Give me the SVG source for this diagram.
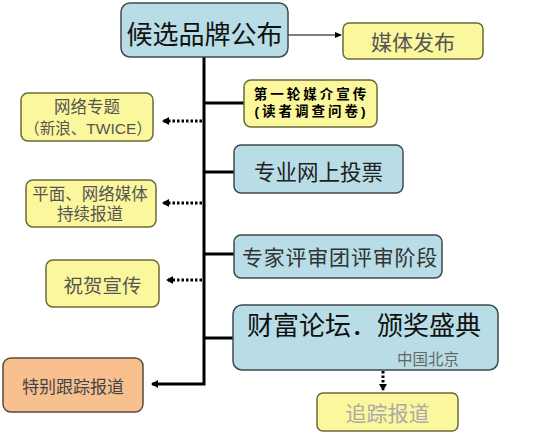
<svg xmlns="http://www.w3.org/2000/svg" width="550" height="438" viewBox="0 0 550 438">
<style>
.b{fill:#B8DDE6;stroke:#3f4a4c;stroke-width:1.5}
.y{fill:#FAF79C;stroke:#6b6a3a;stroke-width:1.5}
.o{fill:#F8C08E;stroke:#5a4a3a;stroke-width:1.5}
text{font-family:"Noto Sans CJK SC","Noto Sans",sans-serif;text-anchor:middle;dominant-baseline:central}
text.t{font-family:"Liberation Sans","Noto Sans CJK SC",sans-serif}
.solid{stroke:#000;stroke-width:3;fill:none}
.dot{stroke:#000;stroke-width:3;stroke-dasharray:2.5 2;fill:none}
</style>
<defs>
<marker id="ah" markerWidth="8" markerHeight="8" refX="6" refY="4" orient="auto" markerUnits="userSpaceOnUse"><path d="M0,0 L7,4 L0,8 z" fill="#000"/></marker>
<marker id="ahs" markerWidth="8" markerHeight="8" refX="6" refY="4" orient="auto" markerUnits="userSpaceOnUse"><path d="M0,1 L7,4 L0,7 z" fill="#000"/></marker>
</defs>
<rect width="550" height="438" fill="#fff"/>
<g id="connectors">
<path class="solid" d="M204,57 V384 H152" marker-end="url(#ah)"/>
<path d="M288,35 H341" stroke="#000" stroke-width="1.2" fill="none" marker-end="url(#ahs)"/>
<path class="solid" d="M204,103 H244"/>
<path class="solid" d="M204,172 H234"/>
<path class="solid" d="M204,254 H234"/>
<path class="solid" d="M204,338 H233"/>
<path class="dot" d="M202,121 H163" marker-end="url(#ah)"/>
<path class="dot" d="M202,203 H163" marker-end="url(#ah)"/>
<path class="dot" d="M202,280 H167" marker-end="url(#ah)"/>
<path class="dot" d="M383,371 V390" stroke-width="2.5" marker-end="url(#ah)"/>
</g>
<g id="n_top"><rect class="b" x="121" y="3" width="167" height="54" rx="9"/><text x="204.5" y="32" font-size="26" fill="#111">候选品牌公布</text></g>
<g id="n_media"><rect class="y" x="343" y="23" width="140" height="36" rx="6"/><text x="413" y="41" font-size="21" fill="#555">媒体发布</text></g>
<g id="n_first"><rect class="y" x="244" y="80" width="133" height="47" rx="7"/><text class="t" x="311.5" y="94.5" font-size="13.5" font-weight="bold" letter-spacing="3" fill="#000">第一轮媒介宣传</text><text class="t" x="311.5" y="111.5" font-size="13.5" font-weight="bold" letter-spacing="3" fill="#000">(读者调查问卷)</text></g>
<g id="n_web"><rect class="y" x="21" y="93" width="132" height="48" rx="7"/><text class="t" x="87" y="107" font-size="16.5" fill="#555">网络专题</text><text class="t" x="88" y="128" font-size="15.5" fill="#555">（新浪、TWICE）</text></g>
<g id="n_vote"><rect class="b" x="234" y="145" width="169" height="48" rx="7"/><text x="318.5" y="170" font-size="21.5" fill="#222">专业网上投票</text></g>
<g id="n_print"><rect class="y" x="26" y="180" width="130" height="47" rx="7"/><text class="t" x="90" y="194" font-size="16.5" fill="#555">平面、网络媒体</text><text class="t" x="90" y="214" font-size="16.5" fill="#555">持续报道</text></g>
<g id="n_expert"><rect class="b" x="234" y="235" width="208" height="43" rx="7"/><text x="340" y="256" font-size="21" letter-spacing="0.8" fill="#333">专家评审团评审阶段</text></g>
<g id="n_congrats"><rect class="y" x="46" y="260" width="113" height="47" rx="7"/><text x="102.5" y="284" font-size="19.5" fill="#555">祝贺宣传</text></g>
<g id="n_forum"><rect class="b" x="233" y="305" width="265" height="65" rx="9"/><text x="364" y="323" font-size="26" fill="#111">财富论坛．颁奖盛典</text><text x="428" y="358" font-size="15.5" fill="#666">中国北京</text></g>
<g id="n_special"><rect class="o" x="3" y="358" width="140" height="54" rx="8"/><text x="73" y="385" font-size="17" fill="#444">特别跟踪报道</text></g>
<g id="n_follow"><rect class="y" x="317" y="393" width="141" height="38" rx="6"/><text x="387.5" y="412" font-size="21" fill="#aaa">追踪报道</text></g>
</svg>
